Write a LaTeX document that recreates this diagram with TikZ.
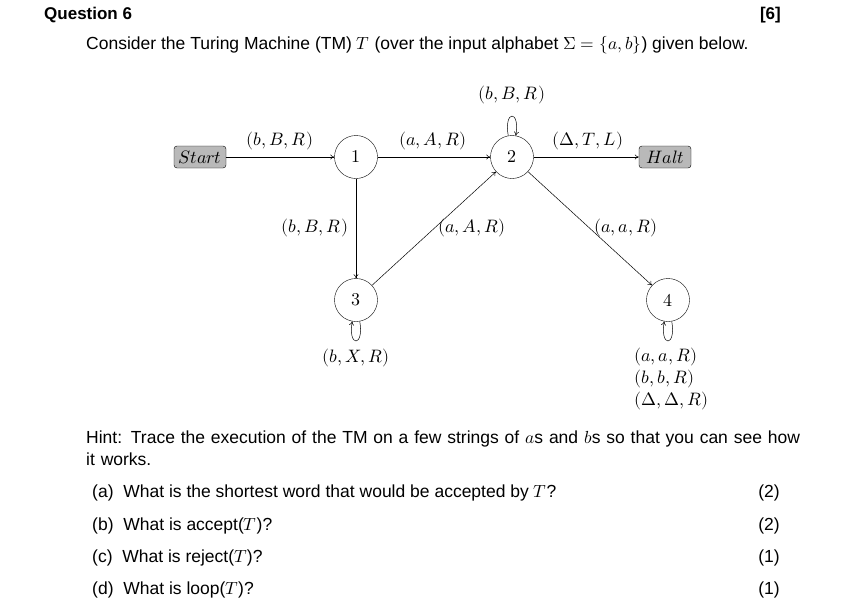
\documentclass[tikz,border=0pt]{standalone}
\usepackage{fontspec}
\setmainfont{Liberation Sans}
\usepackage{unicode-math}
\setmathfont{Latin Modern Math}
\usetikzlibrary{arrows.meta}
\begin{document}
\begin{tikzpicture}[x=1pt,y=-1pt,
  state/.style={draw,circle,minimum size=43pt,inner sep=0pt,font=\fontsize{18}{18}\selectfont},
  term/.style={draw,fill=gray!55,rounded corners=3pt,minimum width=52pt,minimum height=22pt,inner sep=1pt,font=\fontsize{18}{18}\selectfont},
  tr/.style={-{To[length=4pt,width=5pt]},line width=0.5pt},
  lab/.style={font=\fontsize{18}{18}\selectfont},
  txt/.style={anchor=west,font=\fontsize{17.5}{22}\selectfont,inner sep=0pt}]
\useasboundingbox (0,0) rectangle (849,606);
\node[anchor=west,inner sep=0pt,font=\bfseries\fontsize{17}{17}\selectfont] (q) at (44,15) {Question 6};
\node[anchor=east,inner sep=0pt,font=\bfseries\fontsize{17}{17}\selectfont] (mk) at (781,15) {[6]};
\node[txt] (intro) at (86,45) {Consider the Turing Machine (TM) $T$ (over the input alphabet $\Sigma=\{a,b\}$) given below.};

\node[term] (start) at (200,157) {$Start$};
\node[term] (halt) at (665,157) {$Halt$};
\node[state] (n1) at (356,157) {$1$};
\node[state] (n2) at (512,157) {$2$};
\node[state] (n3) at (356,300) {$3$};
\node[state] (n4) at (668,300) {$4$};

\draw[tr] (start) -- (n1);
\draw[tr] (n1) -- (n2);
\draw[tr] (n2) -- (halt);
\draw[tr] (n1) -- (n3);
\draw[tr] (n3) -- (n2);
\draw[tr] (n2) -- (n4);
\draw[tr] (n2.100) to[out=100,in=80,looseness=9] (n2.80);
\draw[tr] (n3.-80) to[out=-80,in=-100,looseness=9] (n3.-100);
\draw[tr] (n4.-80) to[out=-80,in=-100,looseness=9] (n4.-100);

\node[lab] (l1) at (280,141) {$(b,B,R)$};
\node[lab] (l2) at (433,141) {$(a,A,R)$};
\node[lab] (l3) at (588,141) {$(\Delta,T,L)$};
\node[lab] (l4) at (315,228) {$(b,B,R)$};
\node[lab] (l5) at (472,228) {$(a,A,R)$};
\node[lab] (l6) at (626,228) {$(a,a,R)$};
\node[lab] (l7) at (512,95) {$(b,B,R)$};
\node[lab] (l8) at (356,358) {$(b,X,R)$};
\node[lab,anchor=north west,align=left,inner sep=0pt,font=\fontsize{18}{22}\selectfont] (l9) at (634,348) {$(a,a,R)$\\$(b,b,R)$\\$(\Delta,\Delta,R)$};

\node[txt,anchor=north west,text width=728pt,align=left] (hint) at (86,431) {Hint: Trace the execution of the TM on a few strings of $a$s and $b$s so that you can see how it works.};
\node[txt] (qa) at (92,493) {(a)\ \ What is the shortest word that would be accepted by $T$?};
\node[txt] (qb) at (92,526) {(b)\ \ What is accept($T$)?};
\node[txt] (qc) at (92,558) {(c)\ \ What is reject($T$)?};
\node[txt] (qd) at (92,590) {(d)\ \ What is loop($T$)?};
\node[txt,anchor=east] (ma) at (780,493) {(2)};
\node[txt,anchor=east] (mb) at (780,526) {(2)};
\node[txt,anchor=east] (mc) at (780,558) {(1)};
\node[txt,anchor=east] (md) at (780,590) {(1)};
\end{tikzpicture}
\end{document}
